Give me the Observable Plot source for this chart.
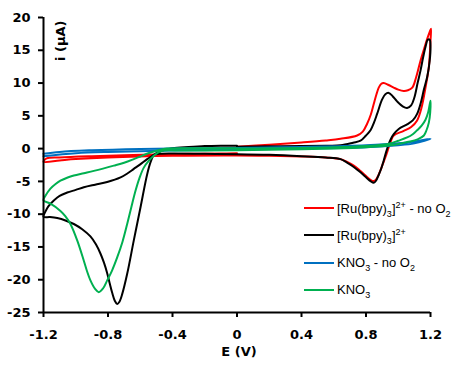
<!DOCTYPE html>
<html>
<head>
<meta charset="utf-8">
<script src="https://cdn.jsdelivr.net/npm/d3@7"></script>
<script src="https://cdn.jsdelivr.net/npm/@observablehq/plot@0.6"></script>
<style>
  html, body { margin: 0; padding: 0; background: #fff; }
  #wrap { position: relative; width: 474px; height: 369px; }
  #legend { position: absolute; left: 304px; top: 199px; font-family: "Liberation Sans", Arial, sans-serif; font-size: 13px; color: #000; }
  #legend .row { display: flex; align-items: center; height: 18px; margin-bottom: 9.3px; white-space: nowrap; }
  #legend .sw { width: 30px; height: 2px; margin-right: 3px; }
  #legend sub, #legend sup { font-size: 9px; line-height: 0; }
</style>
</head>
<body>
<div id="wrap"><div id="legend"></div></div>
<script>
// Axis ticks
const xTicks = [-1.2, -0.8, -0.4, 0, 0.4, 0.8, 1.2];
const yTicks = [20, 15, 10, 5, 0, -5, -10, -15, -20, -25];

// Series names (legend order)
const seriesNames = [
  "[Ru(bpy)<sub>3</sub>]<sup>2+</sup> - no O<sub>2</sub>",
  "[Ru(bpy)<sub>3</sub>]<sup>2+</sup>",
  "KNO<sub>3</sub> - no O<sub>2</sub>",
  "KNO<sub>3</sub>"
];
const seriesColors = ["#ff0000", "#000000", "#0070c0", "#00b050"];

// [E (V), i (µA)] — scan order
const rubpyNoO2 = [
  [0,0.3],[0.2,0.6],[0.4,0.95],[0.55,1.25],[0.642,1.5],[0.745,2.0],[0.78,2.6],[0.807,3.8],[0.83,5.2],
  [0.848,6.8],[0.865,8.3],[0.879,9.3],[0.895,9.9],[0.91,10.0],[0.94,9.7],[0.972,9.3],[1.0,9.0],
  [1.034,8.8],[1.06,8.9],[1.087,9.3],[1.11,10.8],[1.138,13.4],[1.16,15.2],[1.179,16.7],[1.195,17.8],
  [1.203,18.3],[1.2,16.5],[1.19,12.5],[1.169,9.3],[1.145,6.3],[1.117,4.3],[1.08,3.3],[1.034,2.7],
  [0.972,2.0],[0.955,1.2],[0.941,0.2],[0.925,-1.0],[0.905,-2.3],[0.885,-3.6],[0.865,-4.6],[0.848,-4.95],
  [0.83,-4.8],[0.797,-4.1],[0.76,-3.3],[0.724,-2.6],[0.68,-2.0],[0.642,-1.6],[0.55,-1.35],[0.4,-1.2],
  [0.2,-1.1],[0,-1.05],[-0.4,-1.1],[-0.8,-1.35],[-1.0,-1.6],[-1.1,-1.8],[-1.2,-2.0],[-1.18,-1.5],
  [-1.1,-1.35],[-0.9,-1.15],[-0.7,-1.0],[-0.5,-0.9],[-0.3,-0.8],[-0.1,-0.75],[0,-0.7]
];
const rubpy = [
  [0,0.3],[0.2,0.35],[0.4,0.4],[0.55,0.45],[0.642,0.5],[0.72,0.9],[0.766,1.2],[0.8,2.0],[0.828,2.8],
  [0.85,4.0],[0.869,5.3],[0.9,7.5],[0.92,8.3],[0.941,8.5],[0.965,8.0],[0.993,7.2],[1.03,6.4],[1.055,6.2],
  [1.08,6.6],[1.1,7.8],[1.12,10.0],[1.138,11.9],[1.155,14.0],[1.17,15.6],[1.183,16.6],[1.195,16.6],
  [1.2,15.5],[1.195,13.4],[1.18,11.0],[1.159,9.0],[1.14,7.0],[1.117,5.3],[1.09,4.3],[1.055,3.7],
  [1.003,3.0],[0.972,2.2],[0.955,1.5],[0.941,0.7],[0.925,-0.5],[0.91,-1.8],[0.895,-3.0],[0.879,-4.0],
  [0.862,-4.9],[0.848,-5.2],[0.83,-5.0],[0.797,-4.3],[0.76,-3.5],[0.724,-2.8],[0.68,-2.1],[0.642,-1.6],
  [0.55,-1.35],[0.4,-1.15],[0.2,-0.95],[0,-0.85],[-0.2,-0.8],[-0.4,-0.75],[-0.48,-0.8],[-0.516,-1.0],
  [-0.535,-2.0],[-0.557,-3.9],[-0.598,-8.9],[-0.64,-14],[-0.681,-19.1],[-0.712,-22.2],[-0.73,-23.4],
  [-0.743,-23.7],[-0.758,-23.2],[-0.774,-22.0],[-0.79,-20.5],[-0.805,-19.0],[-0.825,-17.4],[-0.847,-16.0],
  [-0.875,-14.6],[-0.909,-13.4],[-0.96,-12.3],[-1.012,-11.5],[-1.06,-11.0],[-1.115,-10.6],[-1.16,-10.45],
  [-1.2,-10.4],[-1.19,-9.7],[-1.17,-8.8],[-1.136,-7.9],[-1.1,-7.2],[-1.053,-6.7],[-1.0,-6.3],[-0.95,-5.9],
  [-0.88,-5.5],[-0.805,-5.1],[-0.722,-4.4],[-0.68,-3.8],[-0.64,-3.1],[-0.6,-2.4],[-0.557,-1.6],
  [-0.52,-1.0],[-0.495,-0.6],[-0.45,-0.2],[-0.4,0.05],[-0.3,0.25],[-0.2,0.4],[-0.1,0.45],[0,0.45]
];
const kno3NoO2 = [
  [-1.2,-0.8],[-1.1,-0.5],[-0.9,-0.25],[-0.6,-0.05],[-0.3,0.05],[0,0.1],[0.4,0.25],[0.8,0.5],
  [1.0,0.8],[1.1,1.1],[1.2,1.5],[1.1,0.8],[1.0,0.5],[0.8,0.2],[0.4,0.0],[0,-0.15],[-0.4,-0.3],
  [-0.8,-0.5],[-1.0,-0.7],[-1.2,-1.15]
];
const kno3 = [
  [0,0.0],[0.2,0.05],[0.4,0.1],[0.6,0.2],[0.8,0.4],[0.9,0.6],[0.95,0.8],[1.0,1.2],[1.055,1.7],
  [1.09,2.2],[1.117,2.8],[1.145,3.5],[1.169,4.4],[1.185,5.5],[1.2,7.3],[1.198,5.5],[1.19,4.0],
  [1.175,2.8],[1.159,2.0],[1.12,1.4],[1.055,1.0],[0.952,0.5],[0.8,0.2],[0.6,0.0],[0.3,-0.15],
  [0,-0.25],[-0.2,-0.3],[-0.35,-0.3],[-0.454,-0.3],[-0.49,-0.6],[-0.516,-1.1],[-0.545,-1.8],
  [-0.578,-2.9],[-0.605,-4.5],[-0.629,-6.4],[-0.655,-8.9],[-0.681,-11.5],[-0.71,-14.2],[-0.743,-16.6],
  [-0.775,-18.6],[-0.805,-20.1],[-0.83,-21.3],[-0.857,-21.9],[-0.88,-21.4],[-0.909,-20.1],[-0.93,-18.7],
  [-0.95,-17.1],[-0.991,-14.0],[-1.033,-11.5],[-1.065,-10.3],[-1.095,-9.5],[-1.157,-8.4],[-1.2,-7.9],
  [-1.188,-7.2],[-1.157,-6.1],[-1.125,-5.4],[-1.095,-4.9],[-1.05,-4.4],[-1.012,-4.1],[-0.95,-3.75],
  [-0.888,-3.4],[-0.764,-2.6],[-0.7,-2.15],[-0.64,-1.6],[-0.59,-1.1],[-0.536,-0.6],[-0.48,-0.2],
  [-0.433,0.0],[-0.3,0.05],[-0.1,0.05],[0,0.05]
];

const seriesData = [rubpyNoO2, rubpy, kno3NoO2, kno3];

const fmtX = d => d === 0 ? "0" : d.toFixed(1);
const fmtY = d => String(d);

const lineMarks = seriesData.map((data, k) =>
  Plot.line(data, {x: d => d[0], y: d => d[1], stroke: seriesColors[k], strokeWidth: 2, curve: "catmull-rom"})
);

const chart = Plot.plot({
  width: 474,
  height: 369,
  marginLeft: 43,
  marginRight: 44,
  marginTop: 17,
  marginBottom: 57,
  style: {fontFamily: "'DejaVu Sans', sans-serif", fontSize: "13px", fontWeight: "bold", color: "#000", background: "#fff"},
  x: {domain: [-1.2, 1.2], axis: null},
  y: {domain: [-25, 20], axis: null},
  marks: [
    ...lineMarks,
    Plot.axisX({ticks: xTicks, tickFormat: fmtX, tickSize: 5, tickPadding: 12, strokeWidth: 2, label: null}),
    Plot.axisY({ticks: yTicks, tickFormat: fmtY, tickSize: 5, tickPadding: 8, strokeWidth: 2, label: null}),
    Plot.ruleX([-1.2], {stroke: "#000", strokeWidth: 2}),
    Plot.ruleY([-25], {stroke: "#000", strokeWidth: 2}),
    Plot.text(["i (μA)"], {frameAnchor: "top-left", rotate: -90, textAnchor: "end", lineAnchor: "middle", dx: 17, dy: 3, fill: "#000"}),
    Plot.text(["E (V)"], {frameAnchor: "bottom", lineAnchor: "middle", dx: 2, dy: 39, fill: "#000"})
  ]
});
document.getElementById("wrap").prepend(chart);

const legend = document.getElementById("legend");
seriesNames.forEach((name, k) => {
  const row = document.createElement("div");
  row.className = "row";
  row.innerHTML = `<span class="sw" style="background:${seriesColors[k]}"></span><span>${name}</span>`;
  legend.appendChild(row);
});
</script>
</body>
</html>
